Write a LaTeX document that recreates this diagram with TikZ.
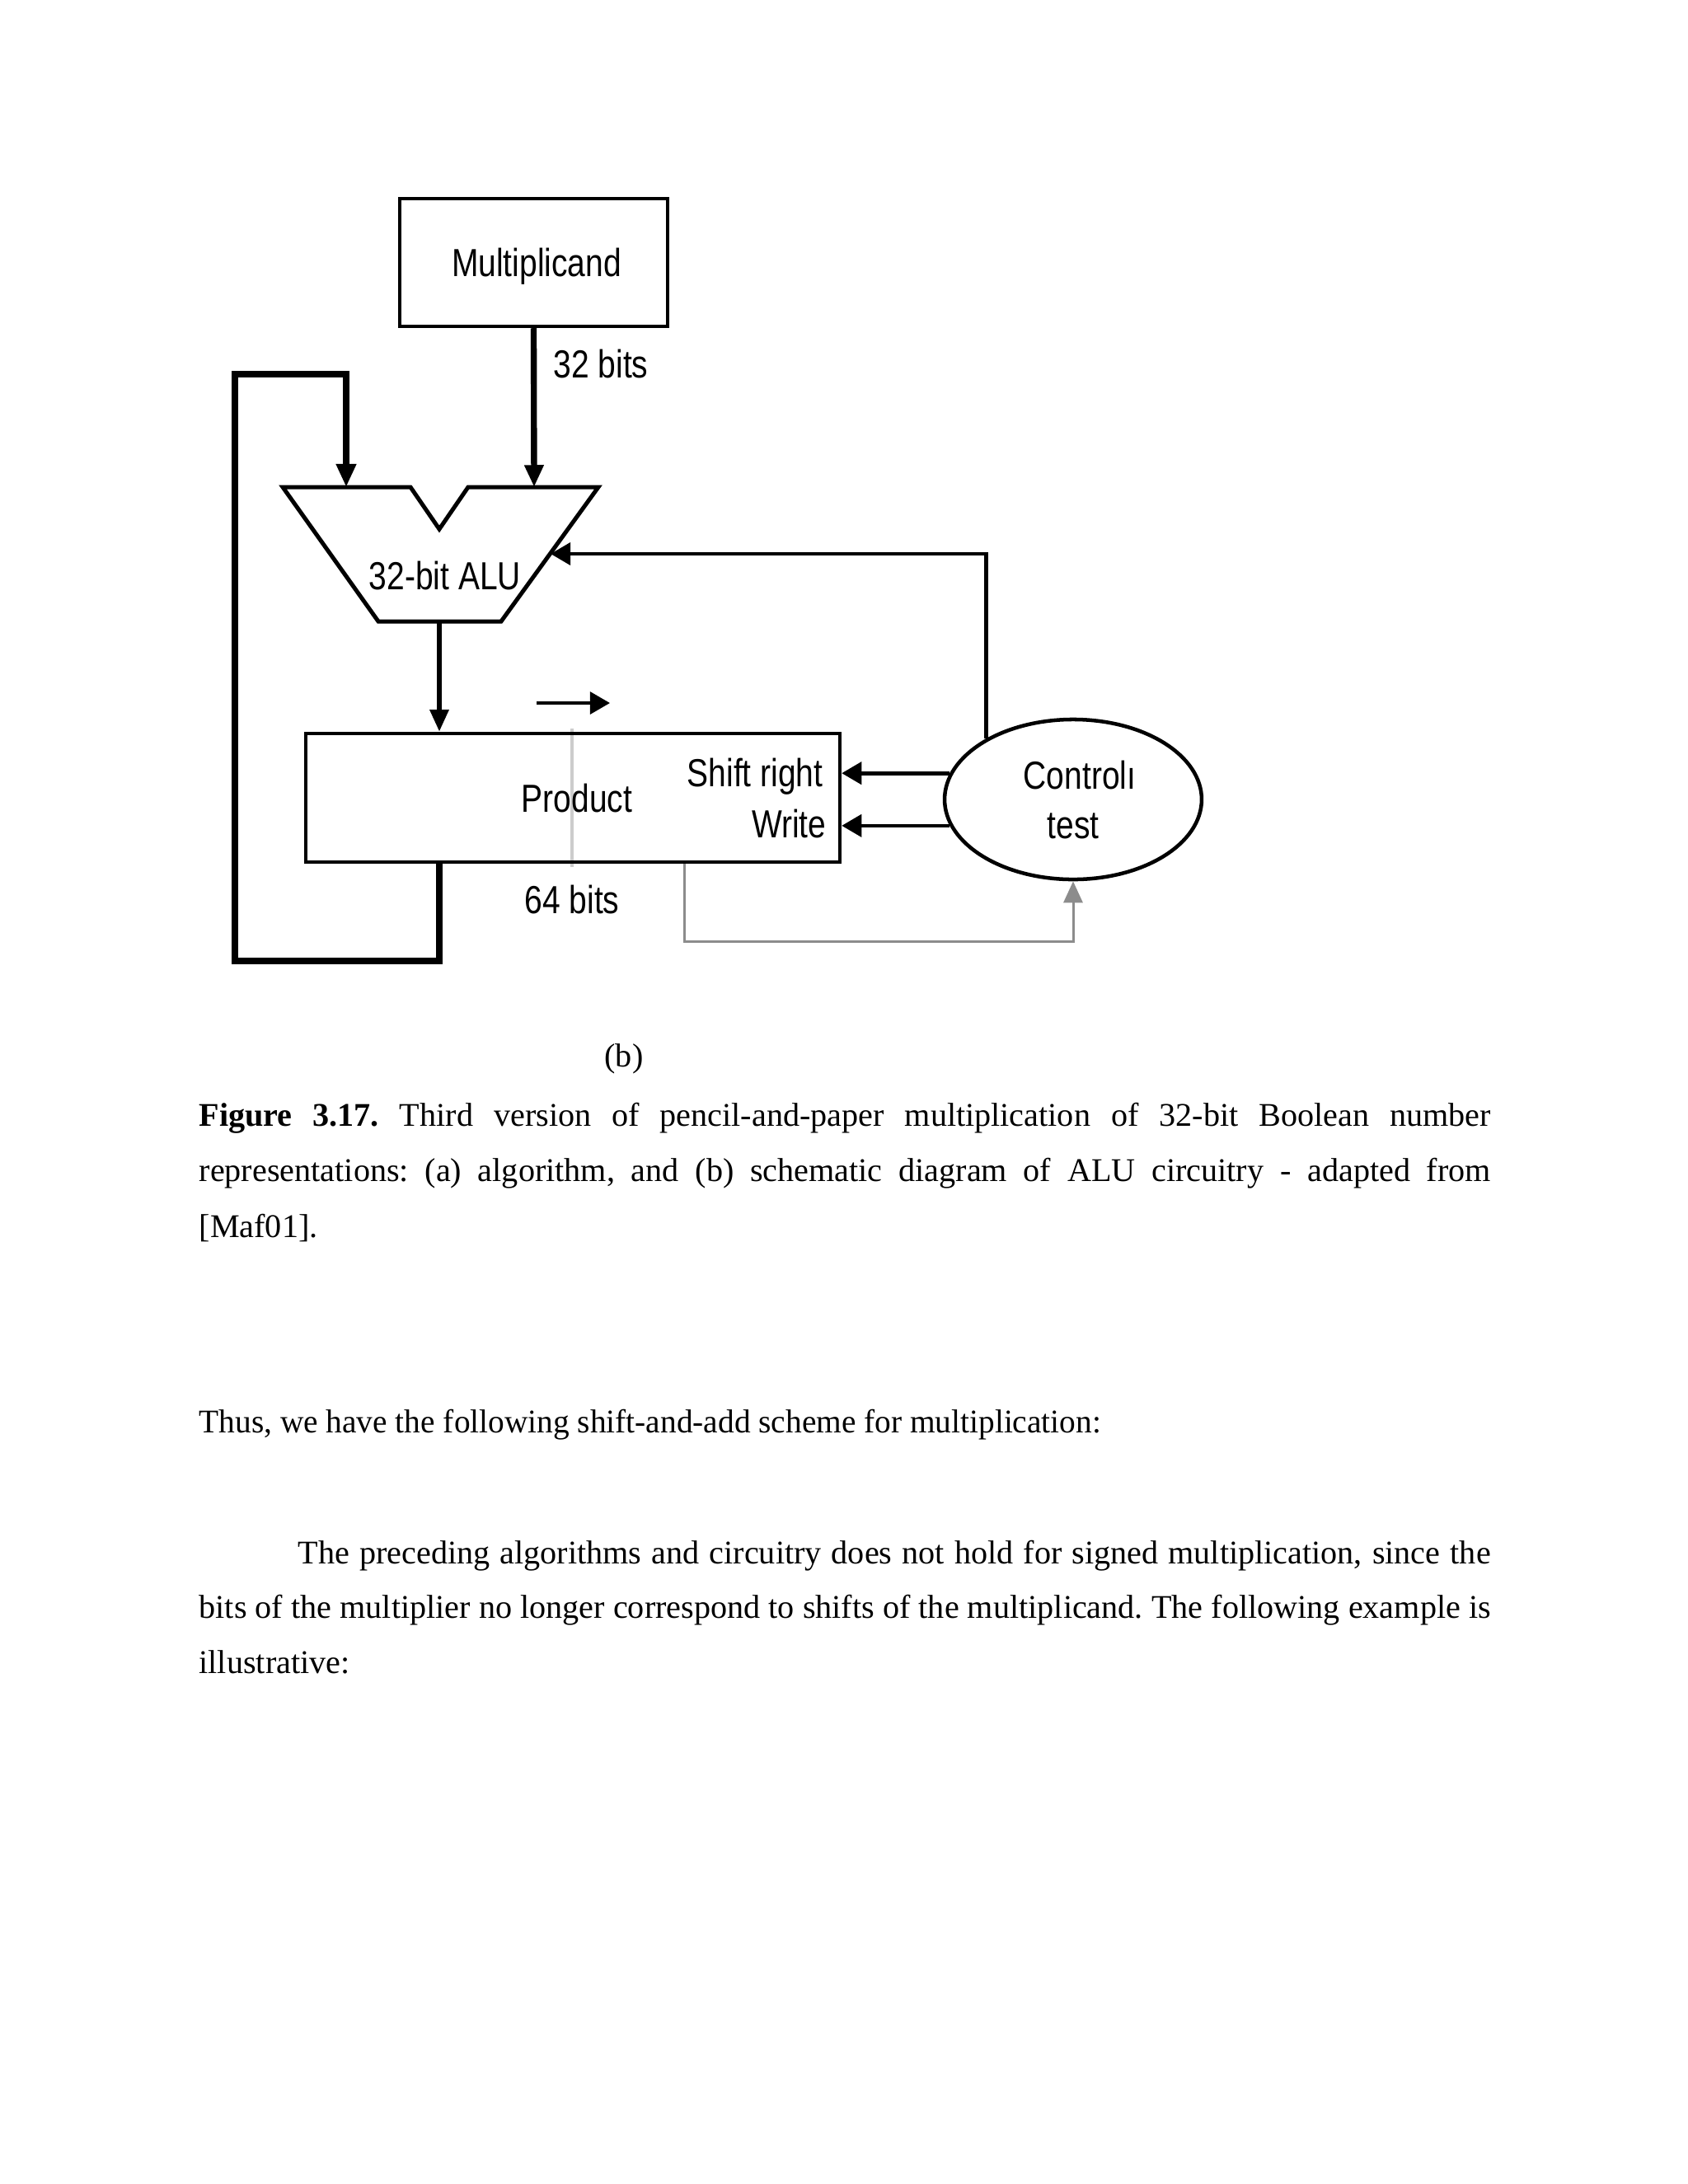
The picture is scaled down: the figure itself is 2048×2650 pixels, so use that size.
\documentclass[tikz,border=0pt]{standalone}
\usepackage{fontspec}
\usepackage{graphicx}
\setmainfont{Liberation Serif}
\newfontfamily\diagfont[FakeStretch=0.82]{Liberation Sans}
\usetikzlibrary{arrows.meta,shapes.geometric}
\definecolor{arrowgray}{HTML}{8C8C8C}
\definecolor{divgray}{HTML}{CCCCCC}
\frenchspacing
\newlength\jlw
\newcommand\jline[2]{%
  \settowidth\jlw{#2}%
  \ifdim\jlw>#1\relax\resizebox{#1}{\height}{#2}\else\makebox[#1][s]{#2}\fi}
\begin{document}
\begin{tikzpicture}[x=0.29883pt,y=-0.29883pt,
  line join=miter,
  diag/.style={inner sep=0pt,font=\diagfont\fontsize{14.2pt}{16pt}\selectfont},
  body/.style={inner sep=0pt,font=\fontsize{12pt}{14pt}\selectfont},
  regbox/.style={draw,line width=1.35pt,inner sep=0pt},
  ctrlshape/.style={draw,ellipse,line width=1.35pt,inner sep=0pt,minimum width=93.2pt,minimum height=58pt},
  alushape/.style={draw,line width=1.5pt},
  thinarrow/.style={line width=1.4pt,-{Triangle[length=7.2pt,width=8pt]}},
  busarrow/.style={line width=2.2pt,-{Triangle[length=8pt,width=6.6pt]}},
  looparrow/.style={line width=2.4pt,-{Triangle[length=8.4pt,width=6.9pt]}},
  grayarrow/.style={draw=arrowgray,line width=0.9pt,-{Triangle[length=7.8pt,width=6.9pt,fill=arrowgray]}}
]
\useasboundingbox (0,0) rectangle (2048,2650);
\fill[white] (0,0) rectangle (2048,2650);

% ---- coordinates ----
\coordinate (aluTL) at (343,591);
\coordinate (aluN1) at (498,591);
\coordinate (aluNB) at (533,642);
\coordinate (aluN2) at (568,591);
\coordinate (aluTR) at (726,591);
\coordinate (aluBR) at (608,754);
\coordinate (aluBL) at (459,754);
\coordinate (aluin1) at (420,591);
\coordinate (aluin2) at (648,591);
\coordinate (aluout) at (533,754);
\coordinate (aluctl) at (668,672);
\coordinate (lb) at (285,1166);
\coordinate (lt) at (285,454);
\coordinate (gcorner) at (830,1142);
\coordinate (sa1) at (651,853);
\coordinate (sa2) at (740,853);
\coordinate (dv1) at (694,884);
\coordinate (dv2) at (694,1052);

% ---- shapes ----
\node[regbox,minimum width=97.1pt,minimum height=46.3pt] (mult) at (647.5,318.5) {};
\draw[divgray,line width=0.9pt] (dv1) -- (dv2);
\node[regbox,minimum width=193.6pt,minimum height=46.6pt] (prod) at (695,968) {};
\node[ctrlshape] (ctrl) at (1302,970) {};
\draw[alushape] (aluTL) -- (aluN1) -- (aluNB) -- (aluN2) -- (aluTR) -- (aluBR) -- (aluBL) -- cycle;

% ---- labels ----
\node[diag,anchor=base] (multlbl) at (651,335) {Multiplicand};
\node[diag,anchor=base west] (bits32) at (671,458) {32 bits};
\node[diag,anchor=base] (alulbl) at (540,715) {32-bit ALU};
\node[diag,anchor=base] (prodlbl) at (700,985) {Product};
\node[diag,anchor=base east] (srlbl) at (999,954) {Shift right};
\node[diag,anchor=base east] (wrlbl) at (1003,1016) {Write};
\node[diag,anchor=base] (ctrllbl) at (1310,957) {Controlı};
\node[diag,anchor=base] (testlbl) at (1302,1017) {test};
\node[diag,anchor=base] (bits64) at (694,1108) {64 bits};

% ---- connectors ----
\draw[busarrow] (mult.south) -- (aluin2);
\draw[looparrow] (prod.south -| aluout) -- (aluout |- lb) -| (lt) -| (aluin1);
\draw[busarrow,line width=1.8pt] (aluout) -- (prod.north -| aluout);
\draw[thinarrow] (ctrl.145) |- (aluctl);
\draw[thinarrow] (ctrl.168) -- (ctrl.168 -| prod.east);
\draw[thinarrow] (ctrl.192) -- (ctrl.192 -| prod.east);
\draw[grayarrow] (prod.south -| gcorner) -- (gcorner) -- (gcorner -| ctrl.south) -- (ctrl.south);
\draw[thinarrow,line width=1.2pt] (sa1) -- (sa2);

% ---- text ----
\node[body,anchor=base] (sub) at (757,1294) {(b)};
\node[body,anchor=base west] (cap1) at (241,1366) {\jline{468.3pt}{\textbf{Figure 3.17.} Third version of pencil-and-paper multiplication of 32-bit Boolean number}};
\node[body,anchor=base west] (cap2) at (241,1433) {\jline{468.3pt}{representations: (a) algorithm, and (b) schematic diagram of ALU circuitry - adapted from}};
\node[body,anchor=base west] (cap3) at (241,1501) {[Maf01].};
\node[body,anchor=base west] (thus) at (241,1738) {\jline{327pt}{Thus, we have the following shift-and-add scheme for multiplication:}};
\node[body,anchor=base west] (par1) at (361,1897) {\jline{432.4pt}{The preceding algorithms and circuitry does not hold for signed multiplication, since the}};
\node[body,anchor=base west] (par2) at (241,1963) {\jline{468.3pt}{bits of the multiplier no longer correspond to shifts of the multiplicand. The following example is}};
\node[body,anchor=base west] (par3) at (241,2030) {illustrative:};
\end{tikzpicture}
\end{document}
